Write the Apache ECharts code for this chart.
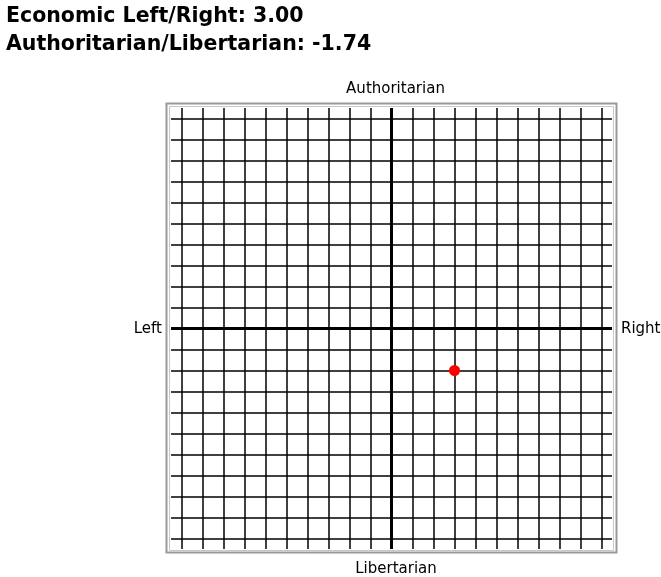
<!DOCTYPE html>
<html>
<head>
<meta charset="utf-8">
<script src="https://cdn.jsdelivr.net/npm/echarts@6/dist/echarts.min.js"></script>
<style>
html,body{margin:0;padding:0;background:#fff;}
#chart{width:661px;height:577px;}
</style>
</head>
<body>
<div id="chart"></div>
<script>
// ---- data ----
var scoreLabels = ['Economic Left/Right', 'Authoritarian/Libertarian'];
var scoreValues = ['3.00', '-1.74'];
var gridTicks = [-10,-9,-8,-7,-6,-5,-4,-3,-2,-1,0,1,2,3,4,5,6,7,8,9,10];
var axisRange = [-10.5, 10.5];
var pointX = [3.0];
var pointY = [-2.0];
var axisNames = {top: 'Authoritarian', bottom: 'Libertarian', left: 'Left', right: 'Right'};

var chart = echarts.init(document.getElementById('chart'), null, {renderer: 'canvas'});

var markData = [];
gridTicks.forEach(function (t) {
  markData.push({xAxis: t, lineStyle: {width: t === 0 ? 3 : 1.5, color: '#000', type: 'solid'}});
  markData.push({yAxis: t, lineStyle: {width: t === 0 ? 3 : 1.5, color: '#000', type: 'solid'}});
});

var titleText = scoreLabels.map(function (l, i) { return l + ': ' + scoreValues[i]; }).join('\n');

var labelFont = {fontFamily: 'DejaVu Sans', fontSize: 15, fill: '#000'};

chart.setOption({
  backgroundColor: '#fff',
  animation: false,
  title: {
    text: titleText,
    left: 1,
    top: -2,
    textStyle: {fontFamily: 'DejaVu Sans', fontWeight: 'bold', fontSize: 20.5, lineHeight: 28, color: '#000'}
  },
  grid: {left: 171, top: 108, width: 441, height: 441, show: false},
  xAxis: {type: 'value', min: axisRange[0], max: axisRange[1], show: false},
  yAxis: {type: 'value', min: axisRange[0], max: axisRange[1], show: false},
  graphic: [
    {type: 'rect', shape: {x: 166.5, y: 103.5, width: 450, height: 449}, style: {fill: 'none', stroke: '#9a9a9a', lineWidth: 2}, z: 0},
    {type: 'rect', shape: {x: 169.5, y: 106.5, width: 444, height: 444}, style: {fill: 'none', stroke: '#c8c8c8', lineWidth: 1}, z: 0},
    {type: 'text', x: 395.5, y: 89, style: Object.assign({text: axisNames.top, align: 'center', verticalAlign: 'middle'}, labelFont)},
    {type: 'text', x: 396, y: 569, style: Object.assign({text: axisNames.bottom, align: 'center', verticalAlign: 'middle'}, labelFont)},
    {type: 'text', x: 162, y: 329, style: Object.assign({text: axisNames.left, align: 'right', verticalAlign: 'middle'}, labelFont)},
    {type: 'text', x: 621, y: 329, style: Object.assign({text: axisNames.right, align: 'left', verticalAlign: 'middle'}, labelFont)}
  ],
  series: [
    {
      type: 'line',
      data: [],
      z: 1,
      silent: true,
      markLine: {
        silent: true,
        symbol: ['none', 'none'],
        label: {show: false},
        emphasis: {disabled: true},
        animation: false,
        data: markData
      }
    },
    {
      type: 'scatter',
      z: 5,
      symbol: 'circle',
      symbolSize: 11,
      itemStyle: {color: '#ff0000', opacity: 1},
      data: pointX.map(function (x, i) { return [x, pointY[i]]; })
    }
  ]
});
</script>
</body>
</html>
